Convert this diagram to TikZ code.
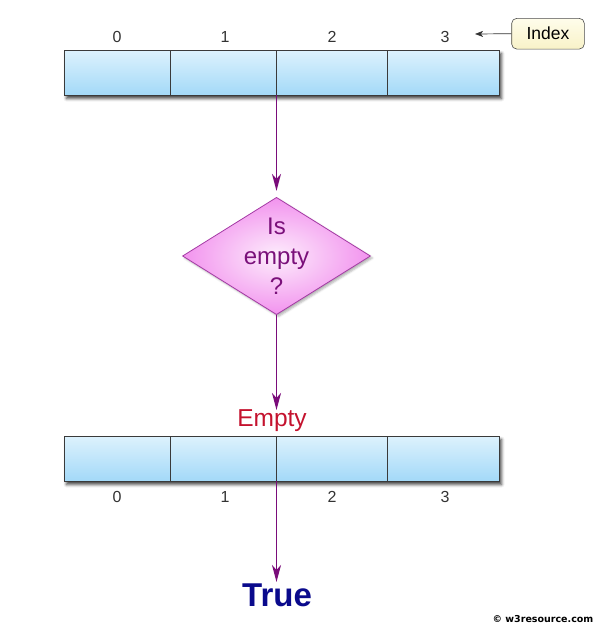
\documentclass[tikz,border=0pt]{standalone}
\usepackage{fontspec}
\setmainfont{Liberation Sans}
\newfontfamily\copyfont{DejaVu Sans}
\usetikzlibrary{shapes.geometric,shadows.blur,arrows.meta}
\definecolor{cellTop}{HTML}{DDF2FD}
\definecolor{cellBot}{HTML}{A3D9F8}
\definecolor{cellLine}{HTML}{3A3A3A}
\definecolor{flowc}{HTML}{7A0C7A}
\definecolor{diaIn}{HTML}{FDEDFC}
\definecolor{diaOut}{HTML}{F293EE}
\definecolor{diaLine}{HTML}{A43AA4}
\definecolor{diaText}{HTML}{7A107A}
\definecolor{emptyc}{HTML}{C4122E}
\definecolor{truec}{HTML}{0A0A8C}
\definecolor{idxTop}{HTML}{FFFDEB}
\definecolor{idxBot}{HTML}{F8F2C8}
\definecolor{digitc}{HTML}{333333}
\begin{document}
\begin{tikzpicture}[x=1pt,y=-1pt,
  cell/.style={draw=cellLine, line width=0.6pt, top color=cellTop, bottom color=cellBot,
    minimum height=45, inner sep=0pt, outer sep=0pt, anchor=north west},
  digit/.style={font=\fontsize{16}{18}\selectfont, text=digitc, inner sep=0pt},
  flow/.style={draw=flowc, line width=1.8pt, -{Stealth[length=17pt,width=9pt,inset=5pt]}},
  arrshadow/.style={blur shadow={shadow xshift=2.5pt, shadow yshift=-3.5pt, shadow blur radius=3pt, shadow opacity=75}},
  dia/.style={diamond, aspect=1.6, minimum width=188, minimum height=114, inner sep=0pt,
    draw=diaLine, line width=0.8pt, shading=radial, inner color=diaIn, outer color=diaOut,
    align=center, text=diaText, font=\fontsize{24}{30}\selectfont,
    blur shadow={shadow xshift=2pt, shadow yshift=-2pt, shadow blur radius=2pt, shadow opacity=30}},
  idxbox/.style={draw=black!70, line width=0.6pt, rounded corners=5pt, top color=idxTop, bottom color=idxBot,
    minimum width=72.6, minimum height=30.7, inner sep=0pt, font=\fontsize{17.5}{20}\selectfont}
]
\useasboundingbox (0,0) rectangle (596,627);

% top array
\path[arrshadow, fill=white] (64,50) rectangle (499,95);
\node[cell, minimum width=106]   (t0) at (64,50) {};
\node[cell, minimum width=106.5] (t1) at (170,50) {};
\node[cell, minimum width=110.5] (t2) at (276.5,50) {};
\node[cell, minimum width=112]   (t3) at (387,50) {};
\node[digit] (ti0) at (117,37) {0};
\node[digit] (ti1) at (225,37) {1};
\node[digit] (ti2) at (332,37) {2};
\node[digit] (ti3) at (445,37) {3};

% index label
\node[idxbox] (idx) at (548,33.7) {Index};
\coordinate (idxend) at (475,34);
\draw[black!80, line width=0.7pt, -{Stealth[length=8pt,width=6pt,inset=2pt]}] (idx.west) -- (idxend);

% diamond
\node[dia] (d) at (276.5,256) {Is\\empty\\?};

% bottom array
\path[arrshadow, fill=white] (64,436) rectangle (499,481);
\node[cell, minimum width=106]   (b0) at (64,436) {};
\node[cell, minimum width=106.5] (b1) at (170,436) {};
\node[cell, minimum width=110.5] (b2) at (276.5,436) {};
\node[cell, minimum width=112]   (b3) at (387,436) {};
\node[digit] (bi0) at (117,497) {0};
\node[digit] (bi1) at (225,497) {1};
\node[digit] (bi2) at (332,497) {2};
\node[digit] (bi3) at (445,497) {3};

% texts
\node[text=emptyc, font=\fontsize{24.5}{28}\selectfont, inner sep=0pt] (empty) at (272,421) {Empty};
\node[text=truec, font=\fontsize{33}{38}\bfseries, inner sep=0pt] (true) at (277,595) {True};
\node[font=\copyfont\bfseries\fontsize{9.5}{11}\selectfont, inner sep=0pt] (copy) at (543,619) {© w3resource.com};

% connectors
\coordinate (e2) at (276.5,410);
\coordinate (e3) at (276.5,582);
\draw[flow, shorten >=6pt] (t1.south east) -- (d.north);
\draw[flow] (d.south) -- (e2);
\draw[flow] (b1.south east) -- (e3);
\end{tikzpicture}
\end{document}
